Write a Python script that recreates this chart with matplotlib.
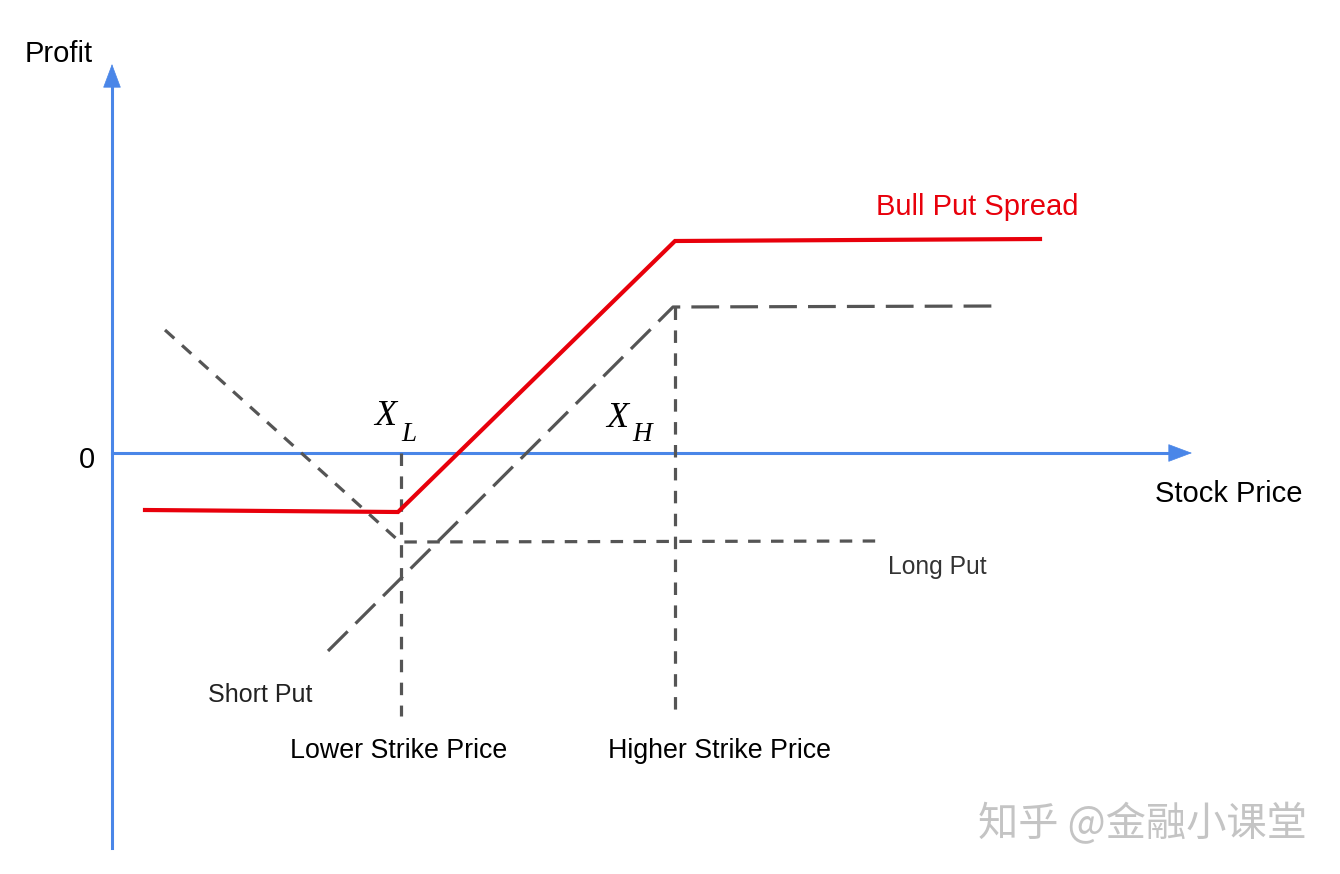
import matplotlib.pyplot as plt

plt.rcParams['lines.scale_dashes'] = False
plt.rcParams['font.family'] = ['Liberation Sans', 'DejaVu Sans']

# axis frame (pixel-like diagram units, y grows downward)
origin_x, origin_y = 112, 453
y_axis_top, y_axis_bottom = 64, 848
x_axis_right = 1192

# payoff lines
spread_x = [145, 398, 675, 1040]
spread_y = [510, 512, 241, 239]

long_put_x = [165, 400, 880]
long_put_y = [330, 542, 541]

short_put_x = [328, 673, 1002]
short_put_y = [651, 307, 306]

# strike markers
strike_x = [401, 675]
strike_top = [453, 307]
strike_bottom = [716, 716]

blue = '#4a86e8'
red = '#e8000b'
grey = '#555555'

fig = plt.figure(figsize=(13.4, 8.74), dpi=100)
ax = fig.add_axes([0, 0, 1, 1])
ax.set_xlim(0, 1340)
ax.set_ylim(874, 0)
ax.axis('off')

# axes with arrowheads
head = dict(arrowstyle='-|>,head_length=0.8,head_width=0.3', color=blue,
            lw=0.5, shrinkA=0, shrinkB=0, mutation_scale=20)
ax.plot([origin_x, origin_x], [y_axis_bottom, y_axis_top + 18], color=blue, lw=2.2)
ax.plot([origin_x, x_axis_right - 18], [origin_y, origin_y], color=blue, lw=2.2)
ax.annotate('', xy=(origin_x, y_axis_top), xytext=(origin_x, y_axis_top + 22), arrowprops=head)
ax.annotate('', xy=(x_axis_right, origin_y), xytext=(x_axis_right - 22, origin_y), arrowprops=head)

# strike verticals
for sx, st, sb in zip(strike_x, strike_top, strike_bottom):
    ax.plot([sx, sx], [st, sb], color=grey, lw=2.3, dashes=(9, 7.5))

ax.plot(long_put_x, long_put_y, color=grey, lw=2.3, dashes=(9, 7.5))
ax.plot(short_put_x, short_put_y, color=grey, lw=2.3, dashes=(20, 8))
ax.plot(spread_x, spread_y, color=red, lw=3, solid_joinstyle='miter')

# labels
ax.text(25, 62, 'Profit', fontsize=21, va='baseline', ha='left')
ax.text(87, 468, '0', fontsize=21, va='baseline', ha='center')
ax.text(1155, 502, 'Stock Price', fontsize=21, va='baseline', ha='left')
ax.text(876, 215, 'Bull Put Spread', fontsize=21, va='baseline', ha='left', color=red)
ax.text(888, 574, 'Long Put', fontsize=17.7, va='baseline', ha='left', color='#333333')
ax.text(208, 702, 'Short Put', fontsize=18, va='baseline', ha='left', color='#222222')
ax.text(399, 758, 'Lower Strike Price', fontsize=19.3, va='baseline', ha='center')
ax.text(719, 758, 'Higher Strike Price', fontsize=19.3, va='baseline', ha='center')

serif = dict(family='Liberation Serif', style='italic', va='baseline', ha='left')
ax.text(374, 425, 'X', fontsize=26, **serif)
ax.text(401, 441, 'L', fontsize=19.5, **serif)
ax.text(606, 427, 'X', fontsize=26, **serif)
ax.text(632, 441, 'H', fontsize=19.5, **serif)

# watermark
ax.text(978, 836, '知乎 @金融小课堂', fontsize=29, va='baseline', ha='left',
        color='#c4c4c4', family=['Noto Sans CJK SC', 'DejaVu Sans'])

fig.savefig('out.png', dpi=100)
